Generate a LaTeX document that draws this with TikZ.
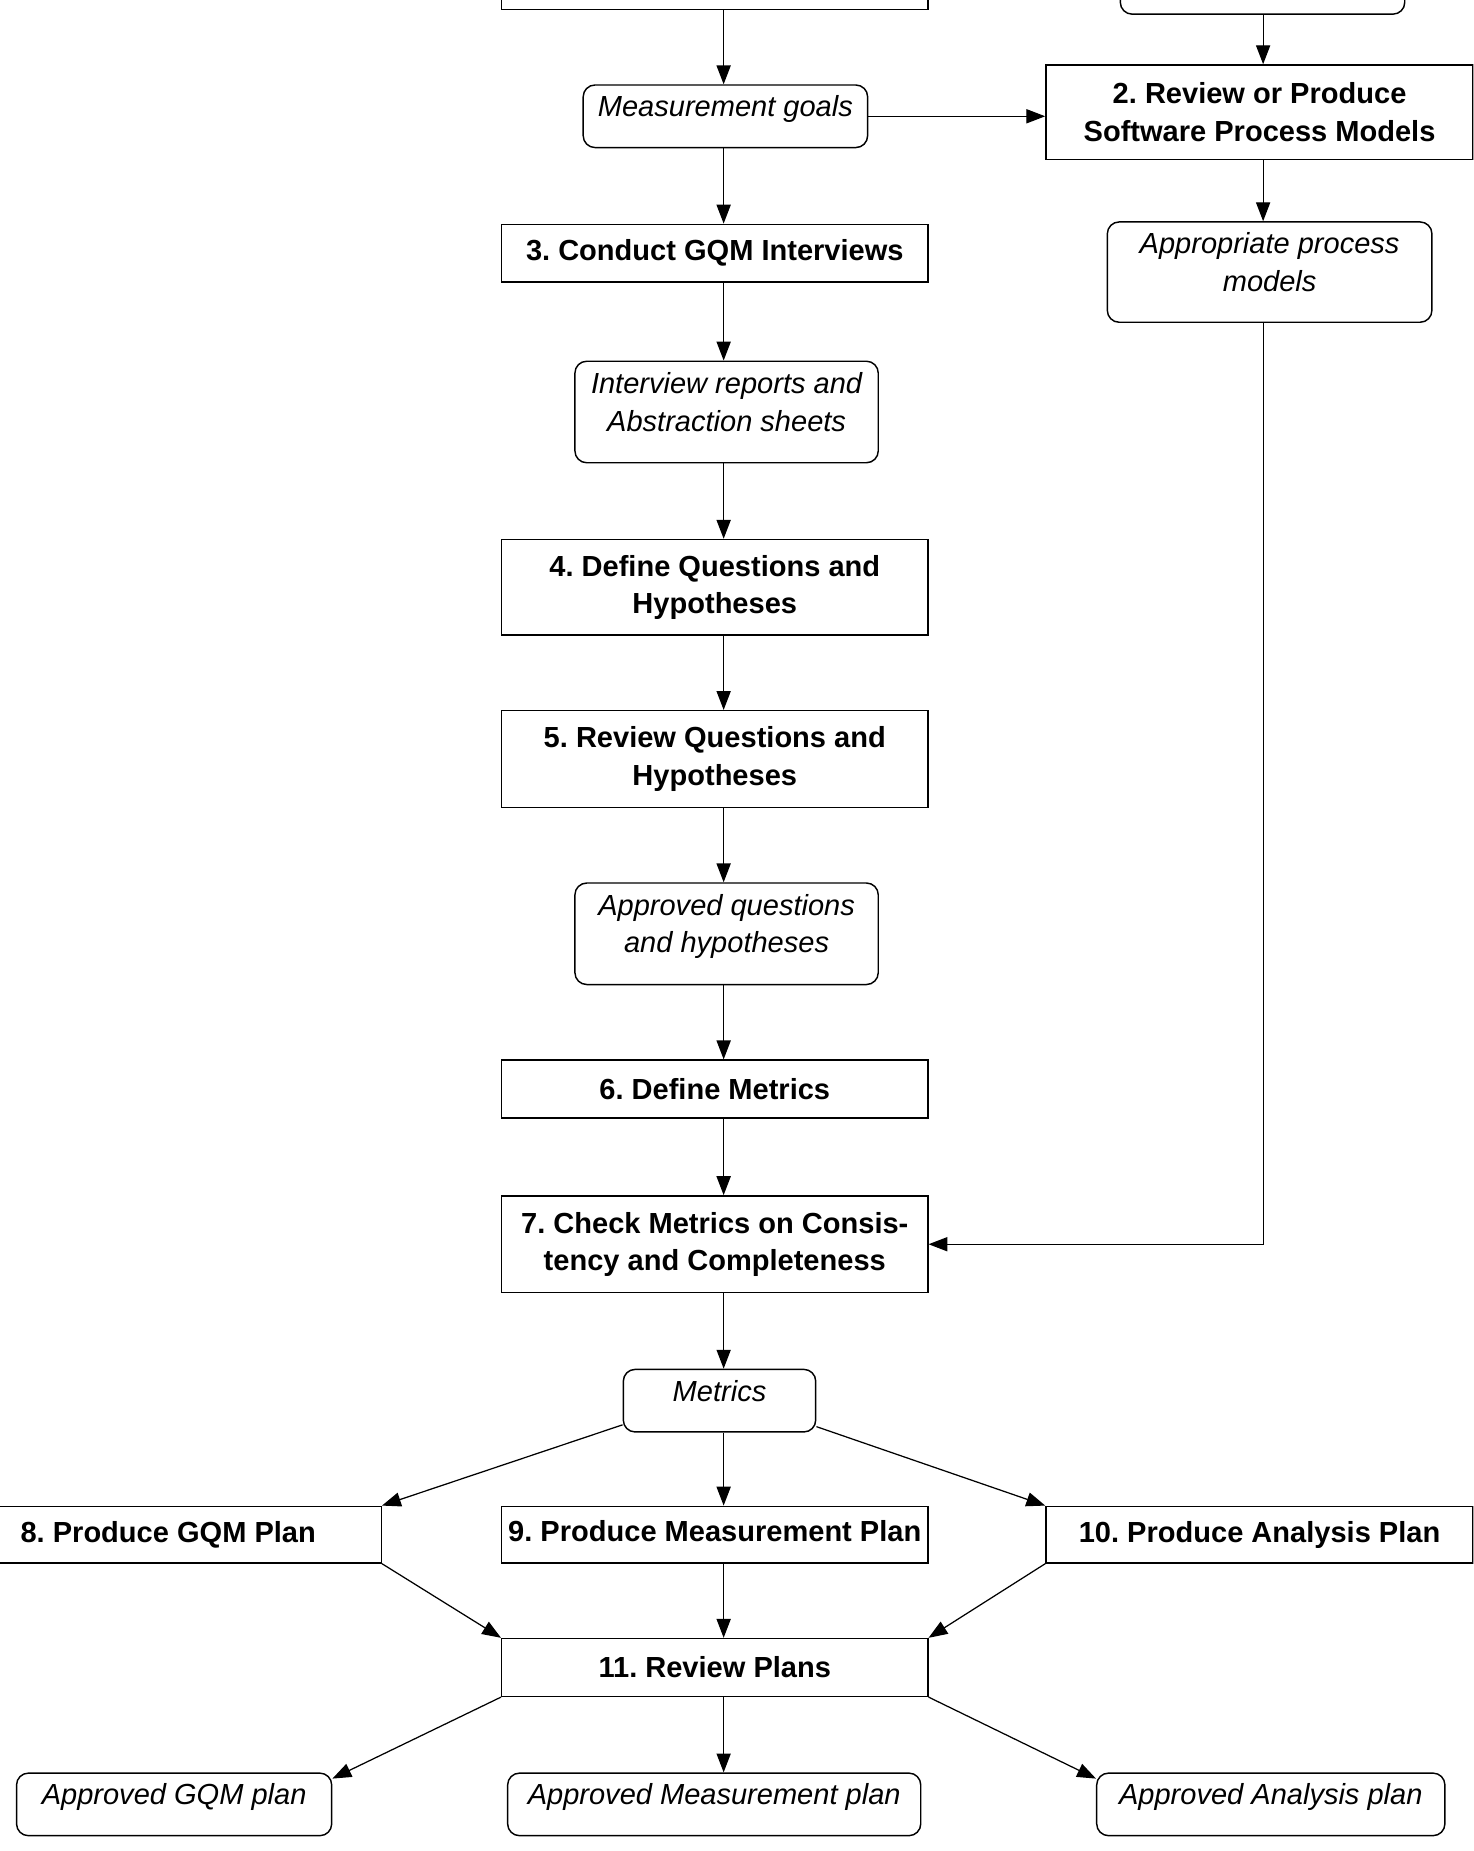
\documentclass[tikz,border=0pt]{standalone}
\usepackage{fontspec}
\setmainfont{Liberation Sans}
\usepackage{tikz}
\usetikzlibrary{arrows.meta, positioning}
\frenchspacing

\begin{document}
\begin{tikzpicture}[x=0.02cm, y=-0.02cm,
    every node/.style={font=\fontsize{14}{18}\selectfont, align=center, line width=0.7pt},
    activity/.style={draw, rectangle, font=\fontsize{14}{18}\selectfont\bfseries, inner xsep=2pt, minimum width=7.22cm, minimum height=#1},
    activity/.default=0.98cm,
    product/.style={draw, rounded corners=0.2cm, font=\fontsize{14}{18}\selectfont\itshape, inner xsep=2pt, text depth=0.34cm, minimum height=#1},
    product/.default=1.06cm,
    flow/.style={-{Triangle[length=0.32cm, width=0.24cm]}, line width=0.6pt}]
    \path[use as bounding box, clip] (0,0) rectangle (1248,1568);
    \coordinate (spine) at (613,0);
    \coordinate (rspine) at (1070,0);

    \node[activity=1.64cm] (define) at (605.5,-33) {};
    \node[product, minimum width=4.82cm] (input) at (1069.5,-14.5) {};
    \node[product, minimum width=4.82cm] (goals) at (614.5,98.5) {Measurement goals};
    \node[activity=1.6cm, minimum width=7.24cm] (review) at (1067,95) {2. Review or Produce\\Software Process Models};
    \node[product=1.7cm, minimum width=5.5cm] (models) at (1075.5,230.5) {Appropriate process\\models};
    \node[activity] (interview) at (605.5,214.5) {3. Conduct GQM Interviews};
    \node[product=1.72cm, minimum width=5.14cm] (reports) at (615.5,349) {Interview reports and\\Abstraction sheets};
    \node[activity=1.62cm] (questions) at (605.5,497.5) {4. Define Questions and\\Hypotheses};
    \node[activity=1.64cm] (reviewq) at (605.5,643) {5. Review Questions and\\Hypotheses};
    \node[product=1.72cm, minimum width=5.14cm] (approvedq) at (615.5,791) {Approved questions\\and hypotheses};
    \node[activity] (metricsdef) at (605.5,922.5) {6. Define Metrics};
    \node[activity=1.64cm] (check) at (605.5,1054) {7. Check Metrics on Consis-\\tency and Completeness};
    \node[product, minimum width=3.26cm] (metrics) at (609.5,1186.5) {Metrics};
    \node[activity=0.96cm] (gqmplan) at (142.5,1300) {8. Produce GQM Plan};
    \node[activity=0.96cm, text depth=0.12cm] (mplan) at (605.5,1300) {9. Produce Measurement Plan};
    \node[activity=0.96cm, minimum width=7.24cm] (aplan) at (1067,1300) {10. Produce Analysis Plan};
    \node[activity] (reviewp) at (605.5,1412.5) {11. Review Plans};
    \node[product, minimum width=5.34cm] (gqmok) at (147.5,1528.5) {Approved GQM plan};
    \node[product, minimum width=7cm] (mok) at (605,1528.5) {Approved Measurement plan};
    \node[product, minimum width=5.9cm] (aok) at (1076.5,1528.5) {Approved Analysis plan};

    \draw[flow] (define.south -| spine) -- (goals.north -| spine);
    \draw[flow] (input.south -| rspine) -- (review.north -| rspine);
    \draw[flow] (goals.east) -- (goals.east -| review.west);
    \draw[flow] (review.south -| rspine) -- (models.north -| rspine);
    \draw[flow] (models.south -| rspine) |- (check.east);
    \draw[flow] (goals.south -| spine) -- (interview.north -| spine);
    \draw[flow] (interview.south -| spine) -- (reports.north -| spine);
    \draw[flow] (reports.south -| spine) -- (questions.north -| spine);
    \draw[flow] (questions.south -| spine) -- (reviewq.north -| spine);
    \draw[flow] (reviewq.south -| spine) -- (approvedq.north -| spine);
    \draw[flow] (approvedq.south -| spine) -- (metricsdef.north -| spine);
    \draw[flow] (metricsdef.south -| spine) -- (check.north -| spine);
    \draw[flow] (check.south -| spine) -- (metrics.north -| spine);
    \draw[flow] (metrics.south -| spine) -- (mplan.north -| spine);
    \draw[flow] (metrics.194) -- (gqmplan.north east);
    \draw[flow] (metrics.345) -- (aplan.north west);
    \draw[flow] (gqmplan.south east) -- (reviewp.north west);
    \draw[flow] (mplan.south -| spine) -- (reviewp.north -| spine);
    \draw[flow] (aplan.south west) -- (reviewp.north east);
    \draw[flow] (reviewp.south west) -- ([yshift=-3pt]gqmok.north east);
    \draw[flow] (reviewp.south -| spine) -- (mok.north -| spine);
    \draw[flow] (reviewp.south east) -- ([yshift=-3pt]aok.north west);
\end{tikzpicture}
\end{document}
